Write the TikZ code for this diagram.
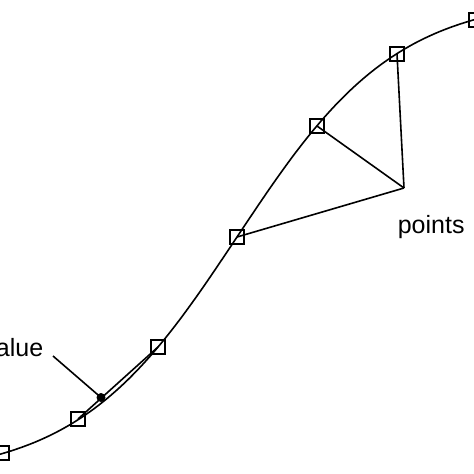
\documentclass[tikz,border=0pt]{standalone}
\usepackage{fontspec}
\setmainfont{Liberation Sans}
\begin{document}
\begin{tikzpicture}[x=1pt,y=-1pt, line width=1.6pt,
  sq/.style={draw, rectangle, minimum size=14pt, inner sep=0pt, line width=1.8pt},
  lbl/.style={font=\fontsize{25}{30}\selectfont, inner sep=0pt},
  dotn/.style={circle, fill, inner sep=0pt, minimum size=9pt}]
\useasboundingbox (0,0) rectangle (474,474);
\draw plot[domain=-10:490, samples=200, smooth] (\x, {237-241*tanh(0.495*(\x-237)/79.3)});
\node[sq] (S0) at (2,453) {};
\node[sq] (S1) at (78,419) {};
\node[sq] (S2) at (158,347) {};
\node[sq] (S3) at (237,237) {};
\node[sq] (S4) at (317,126) {};
\node[sq] (S5) at (397,54) {};
\node[sq] (S6) at (476,20) {};
\node[dotn] (D) at (101,397.5) {};
\coordinate (P) at (404,188);
\coordinate (V) at (53,356);
\draw (S3.center) -- (P);
\draw (S4.center) -- (P);
\draw (S5.center) -- (P);
\draw (S1.center) -- (S2.center);
\draw (V) -- (D.center);
\node[lbl, anchor=base west] (pts) at (397,233) {points};
\node[lbl, anchor=base east] (val) at (44,356) {value};
\end{tikzpicture}
\end{document}
